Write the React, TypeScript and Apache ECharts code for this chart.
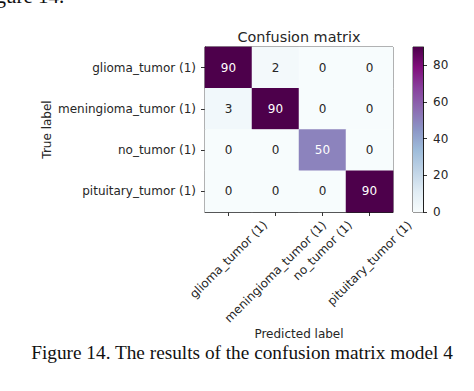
import React, { useEffect, useRef } from "react";
import * as echarts from "echarts";

const categories = ["glioma_tumor (1)", "meningioma_tumor (1)", "no_tumor (1)", "pituitary_tumor (1)"];
const rowGlioma = [90, 2, 0, 0];
const rowMeningioma = [3, 90, 0, 0];
const rowNoTumor = [0, 0, 50, 0];
const rowPituitary = [0, 0, 0, 90];
const colorbarMax = 90;
const colorbarTicks = [0, 20, 40, 60, 80];
const bupu = ["#f7fcfd", "#e0ecf4", "#bfd3e6", "#9ebcda", "#8c96c6", "#8c6bb1", "#88419d", "#810f7c", "#4d004b"];

const FONT = "'DejaVu Sans', sans-serif";
const TXT = "#262626";

export default function App() {
  const ref = useRef<HTMLDivElement>(null);
  useEffect(() => {
    if (!ref.current) return;
    const chart = echarts.init(ref.current, null, { renderer: "svg" });
    const rows = [rowGlioma, rowMeningioma, rowNoTumor, rowPituitary];
    const data: any[] = [];
    rows.forEach((row, yi) =>
      row.forEach((v, xi) => {
        data.push({
          value: [xi, yi, v],
          label: { color: v > colorbarMax / 2 ? "#ffffff" : TXT },
        });
      })
    );
    const canvas = document.createElement("canvas");
    const ctx = canvas.getContext("2d")!;
    ctx.font = "12px 'DejaVu Sans'";
    const lh = 14;
    const rich: any = {};
    categories.forEach((c, i) => {
      const L = ctx.measureText(c).width;
      const p = (L + lh) / 2;
      rich["c" + i] = { fontSize: 12, fontFamily: FONT, color: TXT, lineHeight: lh, padding: [p, p, 0, 0] };
    });
    const stops = bupu.map((c, i) => ({ offset: i / (bupu.length - 1), color: c }));
    chart.setOption({
      animation: false,
      backgroundColor: "#ffffff",
      title: {
        text: "Confusion matrix",
        left: 294,
        top: 25,
        textAlign: "center",
        textStyle: { fontSize: 14.4, fontWeight: "normal", fontFamily: FONT, color: TXT },
      },
      grid: [
        { left: 205, top: 47, width: 188, height: 165, show: true, borderColor: "#000", borderWidth: 0.8, backgroundColor: "transparent" },
        { left: 413, top: 47, width: 10, height: 165, show: true, borderColor: "#000", borderWidth: 0.8, backgroundColor: "transparent" },
      ],
      xAxis: [
        {
          type: "category",
          gridIndex: 0,
          data: categories,
          position: "bottom",
          name: "Predicted label",
          nameLocation: "middle",
          nameGap: 111,
          nameTextStyle: { fontSize: 12, fontFamily: FONT, color: TXT },
          axisLine: { show: true, lineStyle: { color: "#000", width: 0.8 } },
          axisTick: { show: true, alignWithLabel: true, length: 4, lineStyle: { color: "#000", width: 0.8 } },
          axisLabel: {
            interval: 0,
            rotate: 45,
            margin: 6,
            align: "center",
            verticalAlign: "middle",
            formatter: (v: string, i: number) => `{c${i}|${v}}`,
            rich,
          },
          splitLine: { show: false },
        },
        { type: "category", gridIndex: 1, data: ["cb"], show: false },
      ],
      yAxis: [
        {
          type: "category",
          gridIndex: 0,
          data: categories,
          inverse: true,
          name: "True label",
          nameLocation: "middle",
          nameRotate: 90,
          nameGap: 152,
          nameTextStyle: { fontSize: 12, fontFamily: FONT, color: TXT },
          axisLine: { show: true, lineStyle: { color: "#000", width: 0.8 } },
          axisTick: { show: true, alignWithLabel: true, length: 4, lineStyle: { color: "#000", width: 0.8 } },
          axisLabel: { interval: 0, margin: 9, fontSize: 12, fontFamily: FONT, color: TXT },
          splitLine: { show: false },
        },
        {
          type: "value",
          gridIndex: 1,
          position: "right",
          min: 0,
          max: colorbarMax,
          interval: 20,
          axisLine: { show: true, lineStyle: { color: "#000", width: 0.8 } },
          axisTick: { show: true, length: 4, customValues: colorbarTicks, lineStyle: { color: "#000", width: 0.8 } },
          axisLabel: { margin: 10, fontSize: 12, fontFamily: FONT, color: TXT, customValues: colorbarTicks },
          splitLine: { show: false },
        },
      ],
      visualMap: {
        show: false,
        type: "continuous",
        min: 0,
        max: colorbarMax,
        dimension: 2,
        seriesIndex: 0,
        inRange: { color: bupu },
      },
      series: [
        {
          type: "heatmap",
          xAxisIndex: 0,
          yAxisIndex: 0,
          data,
          label: { show: true, fontSize: 12, fontFamily: FONT, formatter: (p: any) => String(p.value[2]) },
          itemStyle: { borderWidth: 0 },
          emphasis: { disabled: true },
        },
        {
          type: "bar",
          xAxisIndex: 1,
          yAxisIndex: 1,
          data: [colorbarMax],
          barWidth: "100%",
          itemStyle: { color: { type: "linear", x: 0, y: 1, x2: 0, y2: 0, colorStops: stops } },
          emphasis: { disabled: true },
        },
      ],
      graphic: [
        {
          type: "text",
          left: -22,
          top: -15,
          style: { text: "Figure 14.", fontSize: 21, fontFamily: "'Liberation Serif', serif", fill: "#111" },
        },
        {
          type: "text",
          x: 242,
          y: 352,
          style: {
            text: "Figure 14. The results of the confusion matrix model 4",
            fontSize: 19.3,
            fontFamily: "'Liberation Serif', serif",
            fill: "#111",
            align: "center",
            verticalAlign: "middle",
          },
        },
      ],
    });
    return () => chart.dispose();
  }, []);
  return <div ref={ref} style={{ position: "absolute", left: 0, top: 0, width: 474, height: 391 }} />;
}
